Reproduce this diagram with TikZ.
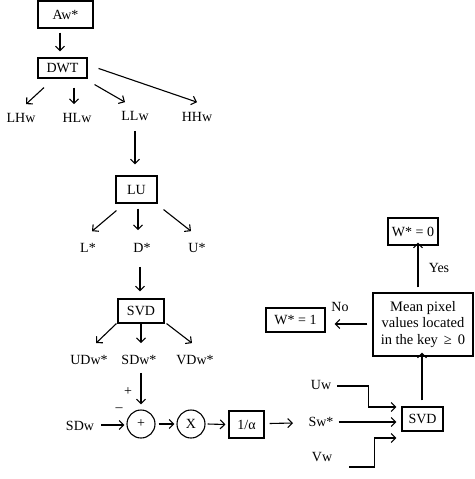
\documentclass[tikz,border=0pt]{standalone}
\usepackage{fontspec}
\setmainfont{Liberation Serif}
\usetikzlibrary{arrows.meta,calc}
\begin{document}
\begin{tikzpicture}[x=1pt,y=-1pt,
  every node/.style={font=\fontsize{14}{16}\selectfont, inner sep=0pt},
  box/.style={draw, line width=1.1pt, minimum width=#1},
  arr/.style={-{Straight Barb[length=4.5pt,width=9pt]}, line width=1.1pt},
  circ/.style={draw, circle, line width=1.1pt, minimum size=28pt}]
\useasboundingbox (0,0) rectangle (474,479);
% boxes
\node[box=55pt, minimum height=27pt] (Aw) at (65.5,14.5) {Aw*};
\node[box=49pt, minimum height=20pt] (DWT) at (62.5,68) {DWT};
\node[box=41pt, minimum height=27pt] (LU) at (136.5,189.5) {LU};
\node[box=46pt, minimum height=24pt] (SVD) at (141,311) {SVD};
\node[box=35pt, minimum height=27pt] (alpha) at (246.5,424.5) {1/α};
\node[box=50pt, minimum height=27pt] (W0) at (413,231.5) {W* = 0};
\node[box=59pt, minimum height=24pt] (W1) at (295.5,320) {W* = 1};
\node[box=100pt, minimum height=63pt, align=center, font=\fontsize{14.5}{16.5}\selectfont] (mean) at (423,324.5) {Mean pixel\\values located\\in the key \,≥\, 0};
\node[box=41pt, minimum height=24pt] (SVD2) at (422.5,419) {SVD};
\node[circ] (plus) at (141,424) {+};
\node[circ] (X) at (191,424) {X};
% labels
\node (LHw) at (21,118) {LHw};
\node (HLw) at (77,118) {HLw};
\node (LLw) at (135,116) {LLw};
\node (HHw) at (197,117) {HHw};
\node (L) at (88,248) {L*};
\node (D) at (142,248) {D*};
\node (U) at (197,248) {U*};
\node (UDw) at (89,360) {UDw*};
\node (SDws) at (139,360) {SDw*};
\node (VDw) at (195,360) {VDw*};
\node (SDw) at (80,426) {SDw};
\node (pl) at (128,392) {+};
\node (mi) at (119,410) {–};
\node (Uw) at (321,385) {Uw};
\node (Sw) at (321,422) {Sw*};
\node (Vw) at (322,457) {Vw};
\node (No) at (340,307) {No};
\node (Yes) at (439,268) {Yes};
\coordinate (out) at (293,423);
% connectors
\draw[arr] ($(Aw.south)+(-5.5,4)$) -- ($(DWT.north)+(-2.5,-6)$);
\draw[arr] ($(DWT.south)+(-18.5,9)$) -- ($(LHw.north)+(5,-9)$);
\draw[arr] ($(DWT.south)+(11.5,9)$) -- ($(HLw.north)+(-3,-9)$);
\draw[arr] ($(DWT.south east)+(7,6)$) -- ($(LLw.north)+(-10,-9)$);
\draw[arr] ($(DWT.north east)+(11,11)$) -- ($(HHw.north)+(0,-10)$);
\draw[arr] ($(LLw.south)+(0,10)$) -- ($(LU.north)+(-1.5,-11)$);
\draw[arr] ($(LU.south west)+(1,7)$) -- ($(L.north)+(4,-12)$);
\draw[arr] ($(LU.south)+(1.5,5)$) -- ($(D.north)+(-4,-13)$);
\draw[arr] ($(LU.south east)+(6,6)$) -- ($(U.north)+(-6,-12)$);
\draw[arr] ($(D.south)+(-2,14)$) -- ($(SVD.north)+(-1,-7)$);
\draw[arr] ($(SVD.south west)+(-1,0)$) -- ($(UDw.north)+(7,-12)$);
\draw[arr] (SVD.south) -- ($(SDws.north)+(2,-12)$);
\draw[arr] ($(SVD.south east)+(2,0)$) -- ($(VDw.north)+(-3,-12)$);
\draw[arr] ($(SDws.south)+(2,8)$) -- ($(plus.north)+(0,-5)$);
\draw[arr] ($(SDw.east)+(7,-1)$) -- ($(plus.west)+(-2,1)$);
\draw[arr] ($(plus.east)+(3,0)$) -- ($(X.west)+(-2,0)$);
\draw[arr] ($(X.east)+(2,0)$) -- ($(alpha.west)+(-3,0)$);
\draw[arr] ($(alpha.east)+(5,-1)$) -- (out);
\draw[arr] ($(Uw.east)+(6,1)$) -- ++(31,0) |- ($(SVD2.west)+(-5,-12)$);
\draw[arr] ($(Sw.east)+(5,0)$) -- ($(SVD2.west)+(-5,3)$);
\draw[arr] ($(Vw.east)+(17,10)$) -- ++(25,0) |- ($(SVD2.west)+(-5,19)$);
\draw[arr] ($(SVD2.north)+(-0.5,-6)$) -- ($(mean.south)+(-1,-4)$);
\draw[arr] ($(mean.west)+(-5,-0.5)$) -- ($(W1.east)+(9,4)$);
\draw[arr] ($(mean.north)+(-5,-5)$) -- ($(W0.south)+(5,-3)$);
\end{tikzpicture}
\end{document}
